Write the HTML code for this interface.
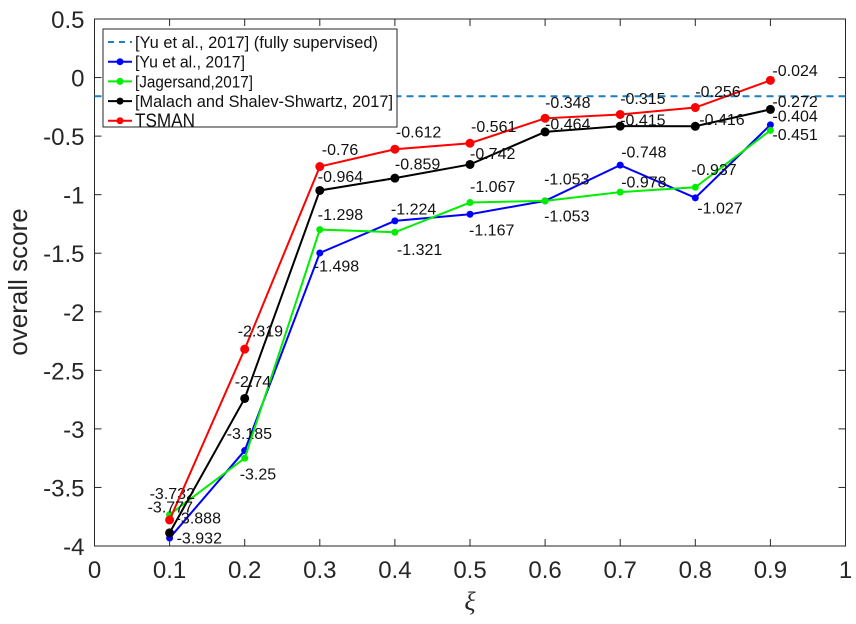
<!DOCTYPE html>
<html><head><meta charset="utf-8"><style>
body{margin:0;background:#fff}
svg{display:block;font-family:"Liberation Sans",sans-serif}
</style></head><body>
<svg id="chart" width="856" height="624" viewBox="0 0 856 624"></svg>
<script>
const xValues=[0.1,0.2,0.3,0.4,0.5,0.6,0.7,0.8,0.9];
const yuValues=[-3.932,-3.185,-1.498,-1.224,-1.167,-1.053,-0.748,-1.027,-0.404];
const jagValues=[-3.732,-3.25,-1.298,-1.321,-1.067,-1.053,-0.978,-0.937,-0.451];
const malachValues=[-3.888,-2.74,-0.964,-0.859,-0.742,-0.464,-0.415,-0.416,-0.272];
const tsmanValues=[-3.777,-2.319,-0.76,-0.612,-0.561,-0.348,-0.315,-0.256,-0.024];
const supervisedValue=-0.16;
const xTicks=[0,0.1,0.2,0.3,0.4,0.5,0.6,0.7,0.8,0.9,1];
const xTickLabels=["0","0.1","0.2","0.3","0.4","0.5","0.6","0.7","0.8","0.9","1"];
const yTicks=[0.5,0,-0.5,-1,-1.5,-2,-2.5,-3,-3.5,-4];
const yTickLabels=["0.5","0","-0.5","-1","-1.5","-2","-2.5","-3","-3.5","-4"];

const L=94.5,R=845.5,T=19,B=546;
const xs=v=>L+(v-0)/(1)*(R-L);
const ys=v=>T+(0.5-v)/4.5*(B-T);
const svg=document.getElementById('chart');
const NS='http://www.w3.org/2000/svg';
function mk(tag,attrs,parent){const e=document.createElementNS(NS,tag);for(const k in attrs)e.setAttribute(k,attrs[k]);(parent||svg).appendChild(e);return e;}

const box=mk('rect',{x:L,y:T,width:R-L,height:B-T,fill:'none',stroke:'#262626','stroke-width':1});


xTicks.forEach((t,i)=>{
  const x=xs(t);
  mk('line',{x1:x,x2:x,y1:B,y2:B-7,stroke:'#262626'});
  mk('line',{x1:x,x2:x,y1:T,y2:T+7,stroke:'#262626'});
  const tx=mk('text',{x:x,y:B+32,'font-size':24,'text-anchor':'middle',fill:'#262626'});
  tx.textContent=xTickLabels[i];
  
  
});
yTicks.forEach((t,i)=>{
  const y=ys(t);
  mk('line',{x1:L,x2:L+7,y1:y,y2:y,stroke:'#262626'});
  mk('line',{x1:R,x2:R-7,y1:y,y2:y,stroke:'#262626'});
  const tx=mk('text',{x:L-10,y:y+9,'font-size':24,'text-anchor':'end',fill:'#262626'});
  tx.textContent=yTickLabels[i];
  
  
});
const yl=mk('text',{x:0,y:0,'font-size':26,'text-anchor':'middle',fill:'#262626',transform:'translate(27,282) rotate(-90)'});
yl.textContent='overall score';


const xl=mk('text',{x:470,y:610,'font-size':26,'text-anchor':'middle','font-style':'italic',fill:'#262626','font-family':'"Liberation Serif",serif'});
xl.textContent='ξ';



const dl=mk('line',{x1:L,x2:R,y1:ys(supervisedValue),y2:ys(supervisedValue),stroke:'#1f7fc0','stroke-width':2,'stroke-dasharray':'7,5'});



const series=[
 {name:'yu',vals:yuValues,color:'#0000ff',r:3.5,
  off:[[7,0],[-18,-17],[-6,13],[-4,-12],[-1,16],[-1,-22],[1,-13],[2,10],[2,-9]]},
 {name:'jagersand',vals:jagValues,color:'#00ee00',r:3.5,
  off:[[-20,-21],[-5,16],[-2,-15],[2,17],[0,-16],[-1,15],[1,-10],[-4,-18],[2,4]]},
 {name:'malach',vals:malachValues,color:'#000000',r:4.5,
  off:[[6,-15],[-10,-17],[-2,-14],[0,-14],[0,-11],[0,-8],[0,-6],[4,-7],[2,-8]]},
 {name:'tsman',vals:tsmanValues,color:'#ff0000',r:4.5,
  off:[[-22,-13],[-7,-18],[2,-17],[1,-17],[1,-17],[0,-16],[0,-16],[0,-16],[2,-10]]}
];
series.forEach(s=>{
  const g=mk('g',{});
  
  
  const pts=s.vals.map((v,i)=>xs(xValues[i])+','+ys(v)).join(' ');
  mk('polyline',{points:pts,fill:'none',stroke:s.color,'stroke-width':2},g);
  s.vals.forEach((v,i)=>{
    const cx=xs(xValues[i]),cy=ys(v);
    const c=mk('circle',{cx:cx,cy:cy,r:s.r,fill:s.color},g);
    
    
    const o=s.off[i];
    const t=mk('text',{x:cx+o[0],y:cy+o[1]+5.5,'font-size':16,fill:'#111'},g);
    t.textContent=String(v);
    
    
  });
});

const lg=mk('g',{});


mk('rect',{x:103,y:29,width:294,height:98,fill:'#fff',stroke:'#262626','stroke-width':1},lg);
const entries=[
 ['[Yu et al., 2017] (fully supervised)','#1f7fc0',true],
 ['[Yu et al., 2017]','#0000ff'],
 ['[Jagersand,2017]','#00ee00'],
 ['[Malach and Shalev-Shwartz, 2017]','#000000'],
 ['TSMAN','#ff0000']];
entries.forEach((e,i)=>{
  const y=42+i*19.7;
  const g=mk('g',{},lg);
  
  
  if(e[2]) mk('line',{x1:108,x2:132,y1:y,y2:y,stroke:e[1],'stroke-width':2,'stroke-dasharray':'6,5'},g);
  else {mk('line',{x1:108,x2:132,y1:y,y2:y,stroke:e[1],'stroke-width':2},g);mk('circle',{cx:120,cy:y,r:3.5,fill:e[1]},g);}
  const t=mk('text',{x:135,y:y+6,'font-size':i==4?19:16.5,fill:'#111','textLength':[243,110,118,258,60][i],'lengthAdjust':'spacingAndGlyphs'},g);
  t.textContent=e[0];
});
</script>
</body></html>
